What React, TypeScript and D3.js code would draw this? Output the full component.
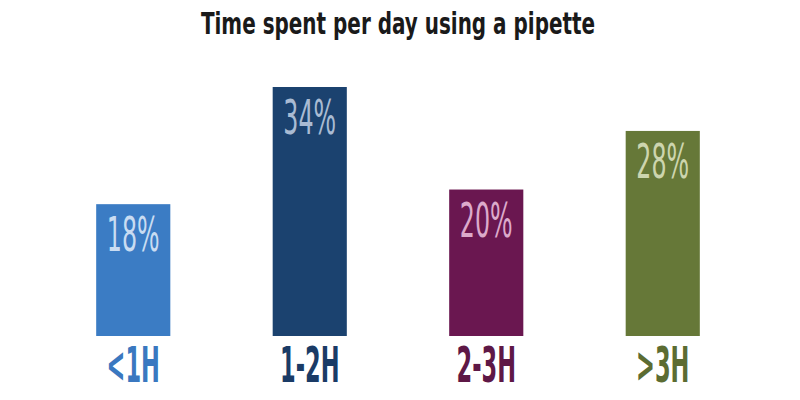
import * as d3 from 'd3';

const categories = ['<1H', '1-2H', '2-3H', '>3H'];
const values = [18, 34, 20, 28];
const barColors = ['#3b7cc4', '#1b426f', '#6a1750', '#667838'];
const valueColors = ['#c9dcf2', '#a9bbd3', '#dcaacb', '#cdd5ae'];
const labelColors = ['#3a78c0', '#1a3b66', '#5e1846', '#5c6c32'];
const title = 'Time spent per day using a pipette';

const W = 800, H = 400;
const FONT = '"DejaVu Sans Condensed", "DejaVu Sans", sans-serif';

export default function App() {
  const x = d3.scaleBand<string>().domain(categories).range([45, 751]).paddingInner(0.58).paddingOuter(0.29);
  const y = d3.scaleLinear().domain([0, 34]).range([336, 87]);

  return (
    <svg width={W} height={H} style={{ position: 'absolute', left: 0, top: 0, background: '#fff' }}>
      <text transform={`translate(398,34) scale(0.74,1)`} textAnchor="middle" fontFamily={FONT} fontWeight="bold" fontSize={30} fill="#1a1a1a">{title}</text>
      {categories.map((c, i) => {
        const cx = x(c)! + x.bandwidth() / 2;
        return (
          <g key={c}>
            <rect x={x(c)} y={y(values[i])} width={x.bandwidth()} height={y(0) - y(values[i])} fill={barColors[i]} />
            <text transform={`translate(${cx},${y(values[i]) + 47}) scale(0.55,1)`} textAnchor="middle" fontFamily={FONT} fontSize={48} fill={valueColors[i]}>{values[i]}%</text>
            <text transform={`translate(${cx},382) scale(0.5,1)`} textAnchor="middle" fontFamily={FONT} fontWeight="bold" fontSize={50} fill={labelColors[i]}>{c}</text>
          </g>
        );
      })}
    </svg>
  );
}
